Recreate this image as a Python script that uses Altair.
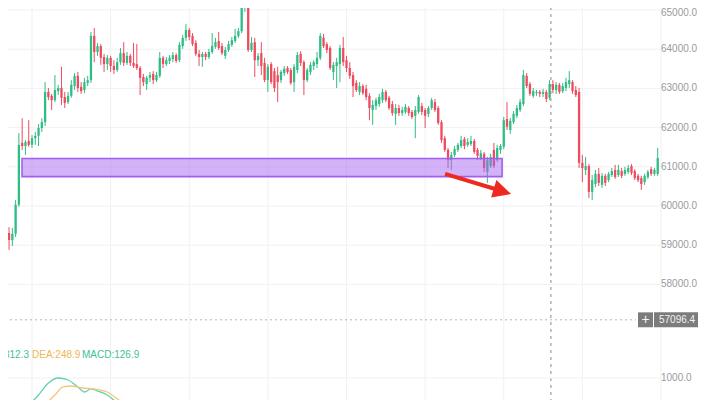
import altair as alt
import pandas as pd

# ---------------- candle data (one entry per candle) ----------------
opens = [59260,59340,59180,59310,59130,59290,60030,61610,61530,61660,
         61560,61730,61790,61990,62140,62910,62810,62700,62930,63010,
         62780,62650,62810,63060,63320,63040,62960,63140,63210,64340,
         63930,64080,63800,63620,63780,63570,63470,63670,63900,63650,
         63830,63650,63620,63520,63290,63110,63270,63370,63210,63320,
         63780,63620,63700,63750,63850,63720,64080,64290,64490,64340,
         64160,63880,63800,63880,63800,63930,64060,64210,64080,63830,
         63980,64110,64210,64340,64460,65050,65150,63980,64180,63720,
         63900,63650,63210,63620,63440,63340,63210,63390,63520,63470,
         63160,63470,63880,63670,63210,63420,63570,63620,63780,64290,
         64130,64030,63420,63570,63620,64030,63720,63520,63340,63140,
         62910,63060,62990,62810,62450,62550,62600,62700,62910,62760,
         62600,62350,62500,62370,62400,62500,62400,62300,62400,62550,
         62450,62350,62500,62650,62500,62140,61730,61430,61170,61300,
         61430,61530,61710,61560,61580,61660,61430,61220,61330,60870,
         61020,61430,61170,61430,61510,62220,61940,62140,62300,62450,
         62600,63320,63110,62810,62880,62910,62860,62910,62760,63110,
         62960,63090,62930,63010,63110,63160,62960,62910,61100,60920,
         61020,60360,60560,60820,60540,60770,60660,60790,60920,60790,
         60890,60820,60870,61020,60890,60770,60710,60610,60740,60940,
         60820,60820]
highs = [59390,59440,59390,59460,59440,60150,61860,62240,61680,62190,
         61810,61890,62090,62240,63160,63010,62860,63340,63090,63550,
         62910,62910,63210,63390,63420,63160,63270,63320,64440,64540,
         64160,64130,63880,63850,63830,63720,63780,64030,64180,63930,
         63880,64160,64130,63570,63370,63320,63420,63440,63420,63930,
         63830,63800,63850,63930,63900,64180,64360,64640,64540,64410,
         64230,63980,63930,63930,64010,64410,64290,64440,64160,64060,
         64210,64310,64520,64540,65200,65260,65200,64310,64290,63900,
         64180,63780,63620,63670,63520,63550,63470,63570,63570,63520,
         63620,63930,63950,63720,63520,63670,63720,63930,64410,64390,
         64180,64080,63670,63780,64110,64310,63830,63670,63420,63210,
         63160,63110,63090,62880,62700,62760,62860,62990,62960,62810,
         62680,62600,62580,62530,62600,62550,62450,62550,62830,62630,
         62500,62550,62760,62730,62550,62190,61790,61480,61380,61530,
         61610,61790,61760,61730,61790,61710,61480,61430,61380,61250,
         61330,61610,61560,61580,62270,62650,62240,62420,62580,62730,
         63470,63390,63160,63010,62960,62960,62990,62960,63210,63210,
         63160,63140,63140,63270,63440,63210,63060,63010,61300,61250,
         61070,60790,60920,60970,60840,60820,60870,60970,61050,61050,
         60970,61000,61050,61070,60940,60820,60770,60820,60920,61000,
         60970,61480]
lows = [59130,59110,59130,58880,58980,59210,59980,61430,61300,61510,
        61480,61560,61530,61890,62040,62700,62450,62650,62830,62580,
        62500,62600,62760,62960,62910,62860,62880,63060,63140,63670,
        63830,63600,63420,63470,63420,63370,63420,63600,63570,63600,
        63570,63520,63470,62830,63060,62960,63160,63110,63160,63270,
        63520,63570,63620,63670,63650,63670,64010,64210,64230,64080,
        63830,63570,63550,63720,63750,63880,64010,63980,63850,63750,
        63930,64060,64160,64290,64410,64950,63930,63930,63290,63570,
        63340,63160,62910,63110,62910,62650,63140,63320,63370,63090,
        62910,63390,63570,62830,63160,63340,63470,63520,63720,64030,
        63900,63470,63210,63010,63160,63570,63420,63240,62780,62910,
        62830,62830,62700,62190,62070,62450,62530,62630,62650,62450,
        62300,62070,62300,62300,62350,62300,62220,61730,62350,62320,
        61990,62270,62450,62400,62070,61610,61380,60970,60920,61250,
        61380,61480,61450,61510,61530,61330,61170,61170,60870,60590,
        60970,60970,61120,61330,61450,61940,61840,62090,62240,62400,
        62550,63010,62810,62760,62810,62780,62780,62650,62700,62880,
        62860,62860,62880,62930,63010,62860,62780,60970,60610,60790,
        60200,60150,60480,60510,60460,60510,60610,60740,60690,60740,
        60710,60770,60820,60790,60660,60610,60410,60540,60690,60770,
        60770,60770]
closes = [59210,59180,59310,59130,59290,60030,61560,61530,61630,61560,
          61730,61790,61990,62140,62910,62780,62700,62960,63010,62760,
          62630,62810,63090,63320,63010,62930,63160,63210,64340,63930,
          64080,63780,63620,63780,63570,63470,63670,63900,63650,63830,
          63650,63570,63520,63270,63160,63270,63340,63210,63340,63780,
          63620,63720,63780,63850,63700,64110,64290,64490,64310,64130,
          63880,63800,63880,63800,63930,64080,64180,64030,63900,63980,
          64130,64230,64340,64460,65050,65180,63980,64160,63720,63830,
          63570,63210,63550,63160,63010,63160,63420,63500,63420,63140,
          63550,63850,63650,63210,63470,63600,63670,63780,64340,64080,
          63980,63520,63600,63670,64030,63670,63520,63320,63060,62960,
          63060,62880,62780,62500,62580,62700,62780,62910,62700,62500,
          62370,62500,62370,62450,62530,62370,62270,62450,62780,62400,
          62300,62500,62700,62450,62120,61680,61430,61170,61300,61450,
          61560,61680,61530,61630,61660,61380,61280,61350,60970,61170,
          61250,61020,61480,61530,62190,62020,62170,62350,62500,62650,
          63340,63060,62860,62930,62910,62860,62910,62730,63110,62960,
          63090,62910,63060,63160,63210,62930,62830,61100,60970,61020,
          60360,60660,60820,60590,60770,60590,60820,60890,60740,60920,
          60770,60920,60970,60840,60710,60660,60560,60770,60870,60820,
          60920,61220]

# ---------------- MACD sub-panel (candle index, value) ----------------
dif_idx = [8, 12, 15, 18, 21, 24, 26, 28, 30, 33, 36, 38]
dif_val = [516, 726, 919, 1000, 968, 855, 774, 823, 790, 726, 597, 516]
dea_idx = [13, 17, 19.5, 22, 25.5, 29, 33, 36.5, 40]
dea_val = [516, 726, 855, 871, 839, 823, 774, 645, 532]
macd_ticks = [1000]
macd_texts = ["DIF:312.3", "DEA:248.9", "MACD:126.9"]

# ---------------- axes / annotations ----------------
price_ticks = [58000, 59000, 60000, 61000, 62000, 63000, 64000]
top_tick = [65000]
time_grid = [10, 34, 58, 82, 106, 130, 154, 178, 202]
zone = dict(x=6.95, x2=153.5, top=61210, bottom=60750)
arrow_shaft_idx = [136.1, 152.9]
arrow_shaft_px = [60820, 60395]
arrow_head = dict(idx=153.6, price=60372, angle=17)
cross_idx = 168.4
cross_price = 57096.4

GREEN = "#2ebd85"
RED = "#ef4a5e"
FONT = "Liberation Sans"

X_DOM = [0.232, 213.30]
Y_DOM = [55051, 65255]
M_DOM = [645.16, 7096.77]

xs = alt.Scale(domain=X_DOM, nice=False, zero=False, padding=0)
ys = alt.Scale(domain=Y_DOM, nice=False, zero=False, padding=0)
ms = alt.Scale(domain=M_DOM, nice=False, zero=False, padding=0)

candles = pd.DataFrame({
    "i": list(range(len(opens))),
    "open": opens, "high": highs, "low": lows, "close": closes,
})
color_cond = alt.condition("datum.close >= datum.open", alt.value(GREEN), alt.value(RED))

all_ticks = pd.DataFrame({"p": price_ticks + top_tick})
grid_h = alt.Chart(all_ticks).mark_rule(
    color="#f1f1f1", strokeWidth=1
).encode(y=alt.Y("p:Q", scale=ys, axis=None), x=alt.value(0), x2=alt.value(661))

grid_v = alt.Chart(pd.DataFrame({"t": time_grid})).mark_rule(
    color="#f1f1f1", strokeWidth=1
).encode(x=alt.X("t:Q", scale=xs, axis=None))

wicks = alt.Chart(candles).mark_rule(strokeWidth=1, clip=True).encode(
    x=alt.X("i:Q", scale=xs, axis=None),
    y=alt.Y("low:Q", scale=ys, axis=None),
    y2="high:Q",
    color=color_cond,
)
bodies = alt.Chart(candles).mark_bar(width=2.3, clip=True).encode(
    x=alt.X("i:Q", scale=xs, axis=None),
    y=alt.Y("open:Q", scale=ys, axis=None),
    y2="close:Q",
    color=color_cond,
)

zone_df = pd.DataFrame([zone])
zone_rect = alt.Chart(zone_df).mark_rect(
    fill="#a766f2", fillOpacity=0.5, stroke="#a35ef0", strokeWidth=1.6
).encode(
    x=alt.X("x:Q", scale=xs, axis=None), x2="x2:Q",
    y=alt.Y("top:Q", scale=ys, axis=None), y2="bottom:Q",
)

shaft = alt.Chart(pd.DataFrame({"i": arrow_shaft_idx, "p": arrow_shaft_px})).mark_line(
    color="#ee2a20", strokeWidth=4, strokeCap="butt"
).encode(x=alt.X("i:Q", scale=xs, axis=None), y=alt.Y("p:Q", scale=ys, axis=None))

head = alt.Chart(pd.DataFrame([arrow_head])).mark_point(
    shape="M-1,-1L1,0L-1,1Z", filled=True, fill="#ee2a20", stroke=None,
    opacity=1, size=330, angle=arrow_head["angle"]
).encode(x=alt.X("idx:Q", scale=xs, axis=None), y=alt.Y("price:Q", scale=ys, axis=None))

cross_v = alt.Chart(pd.DataFrame({"t": [cross_idx]})).mark_rule(
    color="#8a8a8a", strokeWidth=1, strokeDash=[3, 4]
).encode(x=alt.X("t:Q", scale=xs, axis=None))

cross_h = alt.Chart(pd.DataFrame({"p": [cross_price]})).mark_rule(
    color="#b5b5b5", strokeWidth=1, strokeDash=[2, 3]
).encode(y=alt.Y("p:Q", scale=ys, axis=None), x=alt.value(0), x2=alt.value(636))

price_labels = alt.Chart(pd.DataFrame({"p": price_ticks})).mark_text(
    align="left", baseline="middle", color="#9a9a9a", fontSize=10, font=FONT
).encode(
    y=alt.Y("p:Q", scale=ys, axis=None), x=alt.value(661),
    text=alt.Text("p:Q", format=".1f"),
)
top_label = alt.Chart(pd.DataFrame({"p": top_tick})).mark_text(
    align="left", baseline="middle", color="#9a9a9a", fontSize=10, font=FONT, dy=3.5
).encode(
    y=alt.Y("p:Q", scale=ys, axis=None), x=alt.value(661),
    text=alt.Text("p:Q", format=".1f"),
)

cross_df = pd.DataFrame({"p": [cross_price], "hi": [cross_price + 190], "lo": [cross_price - 190]})
plus_box = alt.Chart(cross_df).mark_rect(fill="#7c7c7c").encode(
    y=alt.Y("hi:Q", scale=ys, axis=None), y2="lo:Q", x=alt.value(638), x2=alt.value(653))
plus_txt = alt.Chart(cross_df).mark_text(
    text="+", color="#f4f4f4", fontSize=14, font=FONT, baseline="middle", align="center"
).encode(y=alt.Y("p:Q", scale=ys, axis=None), x=alt.value(645.5))
price_box = alt.Chart(cross_df).mark_rect(fill="#7c7c7c").encode(
    y=alt.Y("hi:Q", scale=ys, axis=None), y2="lo:Q", x=alt.value(654), x2=alt.value(698))
price_box_txt = alt.Chart(cross_df).mark_text(
    color="#f4f4f4", fontSize=10, font=FONT, baseline="middle", align="left"
).encode(y=alt.Y("p:Q", scale=ys, axis=None), x=alt.value(659),
         text=alt.Text("p:Q", format=".1f"))

price_layer = alt.layer(
    grid_h, grid_v, wicks, bodies, zone_rect, shaft, head,
    cross_v, cross_h, price_labels, top_label, plus_box, plus_txt, price_box, price_box_txt
)

# MACD panel
macd_grid = alt.Chart(pd.DataFrame({"v": macd_ticks})).mark_rule(
    color="#f1f1f1", strokeWidth=1
).encode(y=alt.Y("v:Q", scale=ms, axis=None), x=alt.value(0), x2=alt.value(661))
dif_line = alt.Chart(pd.DataFrame({"i": dif_idx, "v": dif_val})).mark_line(
    color="#5fd3ad", strokeWidth=1.3, clip=True, interpolate="monotone"
).encode(x=alt.X("i:Q", scale=xs, axis=None), y=alt.Y("v:Q", scale=ms, axis=None))
dea_line = alt.Chart(pd.DataFrame({"i": dea_idx, "v": dea_val})).mark_line(
    color="#f4c57a", strokeWidth=1.3, clip=True, interpolate="monotone"
).encode(x=alt.X("i:Q", scale=xs, axis=None), y=alt.Y("v:Q", scale=ms, axis=None))
macd_label = alt.Chart(pd.DataFrame({"v": macd_ticks})).mark_text(
    align="left", baseline="middle", color="#9a9a9a", fontSize=10, font=FONT
).encode(y=alt.Y("v:Q", scale=ms, axis=None), x=alt.value(661),
         text=alt.Text("v:Q", format=".1f"))
legend_df = pd.DataFrame({
    "t": macd_texts,
    "px": [29, 32, 82],
    "al": ["right", "left", "left"],
    "c": ["#3fbf92", "#f0b654", "#3fbf92"],
})
legend_txt = [
    alt.Chart(legend_df.iloc[[k]]).mark_text(
        align=legend_df["al"][k], baseline="middle", fontSize=10, font=FONT,
        color=legend_df["c"][k]
    ).encode(text="t:N", x=alt.value(int(legend_df["px"][k])), y=alt.value(355))
    for k in range(3)
]
macd_layer = alt.layer(macd_grid, dif_line, dea_line, macd_label, *legend_txt)

chart = alt.layer(price_layer, macd_layer).resolve_scale(y="independent").properties(
    width=698, height=400,
    padding={"left": -8, "top": -8, "right": 0, "bottom": 0},
    autosize=alt.AutoSizeParams(type="none"),
    background="white",
).configure_view(stroke=None)

chart.save("out.html", embed_options={"renderer": "svg", "actions": False})
